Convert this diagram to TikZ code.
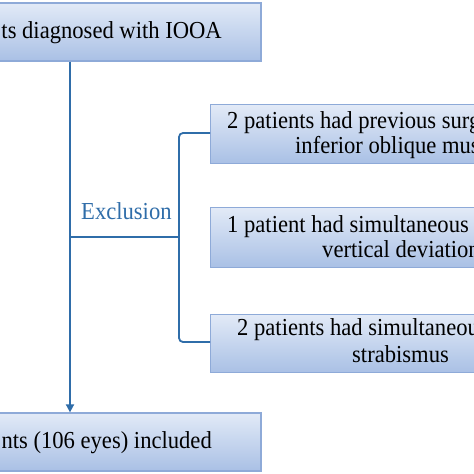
\documentclass[tikz,border=0pt]{standalone}
\usepackage{fontspec}
\setmainfont{Liberation Serif}
\usetikzlibrary{arrows.meta}
\definecolor{linkblue}{HTML}{2F6DA9}
\definecolor{boxedge}{HTML}{8EAAD8}
\definecolor{boxtop}{HTML}{E2EAF7}
\definecolor{boxbot}{HTML}{A9C0E5}
\newcommand{\tallt}[1]{\scalebox{1}[1.08]{#1}}
\tikzset{
  box/.style={draw=boxedge, line width=1.3pt, top color=boxtop, bottom color=boxbot, inner sep=0pt},
  lbl/.style={inner sep=0pt, font=\fontsize{22.6}{25}\selectfont, text=black},
  link/.style={draw=linkblue, line width=1.8pt},
}
\begin{document}
\begin{tikzpicture}[x=1pt,y=-1pt]
\useasboundingbox (0,0) rectangle (474,474);
\clip (0,0) rectangle (474,474);
\fill[white] (0,0) rectangle (474,474);
% boxes
\node[box, minimum width=290pt, minimum height=58pt] (top) at (116,32) {};
\node[box, minimum width=290pt, minimum height=58pt] (bot) at (116,442) {};
\node[box, minimum width=300pt, minimum height=59pt, anchor=north west] (ex1) at (210,104) {};
\node[box, minimum width=300pt, minimum height=60pt, anchor=north west] (ex2) at (210,207) {};
\node[box, minimum width=300pt, minimum height=58pt, anchor=north west] (ex3) at (210,314) {};
% texts
\node[lbl, anchor=base east] (t0) at (222,38) {\tallt{ts diagnosed with IOOA}};
\node[lbl, anchor=base east] (t5) at (212,448) {\tallt{nts (106 eyes) included}};
\node[lbl, anchor=base west] (t1a) at (227,128) {\tallt{2 patients had previous surg}};
\node[lbl, anchor=base west] (t1b) at (295,153) {\tallt{inferior oblique mus}};
\node[lbl, anchor=base west] (t2a) at (227,232) {\tallt{1 patient had simultaneous}};
\node[lbl, anchor=base west] (t2b) at (322,257) {\tallt{vertical deviation}};
\node[lbl, anchor=base west] (t3a) at (237,335) {\tallt{2 patients had simultaneous}};
\node[lbl, anchor=base west] (t3b) at (352,362) {\tallt{strabismus}};
\node[lbl, anchor=base west, text=linkblue] (exl) at (81,219) {\tallt{Exclusion}};
% connectors
\coordinate (trunk) at (70,237);
\coordinate (brk) at (179,237);
\draw[link, -{Triangle[length=8pt,width=8pt]}] (trunk |- top.south) -- (trunk |- bot.north);
\draw[link] (trunk) -- (brk);
\draw[link, rounded corners=4pt] (ex1.west |- 0,133) -| (brk |- 0,342) -- (ex3.west |- 0,342);
\end{tikzpicture}
\end{document}
